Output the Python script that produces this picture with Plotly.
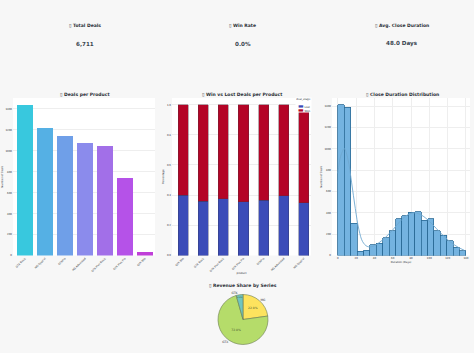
import plotly.graph_objects as go

W, H = 474, 353

products_count = ["GTX Basic", "MG Special", "GTXPro", "MG Advanced", "GTX Plus Basic", "GTX Plus Pro", "GTK 500"]
deals_count = [1435, 1218, 1142, 1079, 1047, 741, 30]
bar_colors = ["#38c8de", "#55b0e4", "#6f9fe8", "#8b8bec", "#a26fe8", "#b552e8", "#c03fd8"]

products_ratio = ["GTK 500", "GTX Basic", "GTX Plus Basic", "GTX Plus Pro", "GTXPro", "MG Advanced", "MG Special"]
lost_share = [0.40, 0.36, 0.375, 0.355, 0.365, 0.395, 0.35]
won_share = [0.60, 0.64, 0.625, 0.645, 0.635, 0.605, 0.65]

hist_centers = [3.5, 10.5, 17.5, 24.5, 31.5, 38.5, 45.5, 52.5, 59.5, 66.5, 73.5, 80.5, 87.5, 94.5, 101.5, 108.5, 115.5, 122.5, 129.5, 136.5]
hist_counts = [1410, 1390, 300, 40, 50, 100, 115, 165, 230, 345, 370, 405, 410, 330, 345, 230, 190, 140, 75, 45]
kde_x = [0, 3, 7, 11, 15, 19, 23, 27, 32, 38, 45, 52, 60, 68, 76, 84, 92, 100, 108, 116, 124, 132, 138]
kde_y = [770, 930, 1000, 900, 680, 440, 240, 130, 85, 85, 120, 170, 240, 320, 380, 400, 375, 320, 250, 180, 120, 75, 50]

series = ["MG", "GTX", "GTK"]
revenue_share = [22.8, 72.8, 4.4]
pie_colors = ["#fde35e", "#b5dc6a", "#6fc5c0"]

kpi_titles = ["▯ Total Deals", "▯ Win Rate", "▯ Avg. Close Duration"]
kpi_values = ["6,711", "0.0%", "48.0 Days"]
kpi_x = [85, 243, 402]

panel_titles = ["▯ Deals per Product", "▯ Win vs Lost Deals per Product", "▯ Close Duration Distribution"]
panel_title_x = [85, 243, 402]

legend_title = "deal_stage"
legend_names = ["Lost", "Won"]
legend_colors = ["#3b4cb8", "#b40426"]

FONT = "DejaVu Sans"
TXT = "#2b2f36"
GRID = "#eeeeee"


def px(x):
    return x / W


def py(y):
    return 1 - y / H


def note(x, y, text, size, color=TXT, xanchor="center", **kw):
    return dict(x=px(x), xanchor=xanchor, y=py(y), yanchor="middle", text=text, showarrow=False,
                xref="paper", yref="paper", font=dict(size=size, color=color, family=FONT), **kw)


fig = go.Figure()

fig.add_trace(go.Bar(x=products_count, y=deals_count, marker=dict(color=bar_colors, line=dict(width=0)),
                     width=0.77, xaxis="x", yaxis="y", showlegend=False))

fig.add_trace(go.Bar(x=products_ratio, y=lost_share, name="Lost", width=0.5, showlegend=False,
                     marker=dict(color="#3b4cb8", line=dict(color="#333a66", width=0.4)), xaxis="x2", yaxis="y2"))
fig.add_trace(go.Bar(x=products_ratio, y=won_share, name="Won", width=0.5, showlegend=False,
                     marker=dict(color="#b40426", line=dict(color="#5a2a3a", width=0.4)), xaxis="x2", yaxis="y2"))

fig.add_trace(go.Bar(x=hist_centers, y=hist_counts, width=7, showlegend=False,
                     marker=dict(color="#74b3e0", line=dict(color="#2b6a96", width=0.8)), xaxis="x3", yaxis="y3"))
fig.add_trace(go.Scatter(x=kde_x, y=kde_y, mode="lines", showlegend=False, line=dict(color="#6fa8d0", width=0.9, shape="spline"),
                         xaxis="x3", yaxis="y3"))

pie_domain = dict(x=[px(218), px(268)], y=[py(344.5), py(294.5)])
fig.add_trace(go.Pie(labels=series, values=revenue_share, sort=False, direction="clockwise", rotation=0,
                     domain=pie_domain, marker=dict(colors=pie_colors, line=dict(color="#6a7a50", width=0.6)),
                     textinfo="label", textposition="outside", automargin=False,
                     outsidetextfont=dict(size=3, color=TXT, family=FONT), showlegend=False))
fig.add_trace(go.Pie(labels=series, values=revenue_share, sort=False, direction="clockwise", rotation=0,
                     domain=pie_domain, marker=dict(colors=["rgba(0,0,0,0)"] * 3, line=dict(width=0)),
                     textinfo="percent", texttemplate="%{value:.1f}%", textposition="inside", insidetextorientation="horizontal",
                     insidetextfont=dict(size=3, color="#4a5a30", family=FONT), showlegend=False))

ann = []
for t, v, x in zip(kpi_titles, kpi_values, kpi_x):
    ann.append(note(x, 25.3, f"<b>{t}</b>", 4.5))
    ann.append(note(x, 43.7, f"<b>{v}</b>", 5.6, "#3a4650"))
for t, x in zip(panel_titles, panel_title_x):
    ann.append(note(x, 94.3, f"<b>{t}</b>", 4.5))
ann.append(note(243, 285.3, "<b>▯ Revenue Share by Series</b>", 4.5))
ann.append(note(303.5, 105, legend_title, 2.6, width=15, height=14, bgcolor="#ffffff", valign="top", align="center",
                borderpad=0))
for i, (n, c) in enumerate(zip(legend_names, legend_colors)):
    ann.append(note(296, 105 + 4.5 * i, f"<span style='color:{c};font-size:6px'>▬</span> {n}", 2.6, xanchor="left"))


def ax(dom, **kw):
    base = dict(domain=dom, tickfont=dict(size=2.6, color=TXT, family=FONT), showline=False, zeroline=False,
                ticks="", ticklen=1, automargin=False, gridcolor=GRID, gridwidth=0.5)
    base.update(kw)
    return base


def atitle(text, standoff=2):
    return dict(text=text, font=dict(size=2.6, color=TXT, family=FONT), standoff=standoff)


fig.update_layout(
    width=W, height=H, margin=dict(l=0, r=0, t=0, b=0), autosize=False,
    paper_bgcolor="#f7f7f7", plot_bgcolor="#ffffff", barmode="stack", bargap=0.2,
    font=dict(family=FONT),
    annotations=ann,
    xaxis=ax([px(13), px(155)], anchor="y", showgrid=False, tickangle=-45, range=[-0.6, 6.5]),
    yaxis=ax([py(255.5), py(98)], anchor="x", range=[0, 1504], tickvals=[0, 200, 400, 600, 800, 1000, 1200, 1400],
             title=atitle("Number of Deals")),
    xaxis2=ax([px(172), px(311)], anchor="y2", showgrid=False, tickangle=-45, range=[-0.56, 6.36],
              title=atitle("product", 0)),
    yaxis2=ax([py(255.5), py(98)], anchor="x2", range=[0, 1.044], tickvals=[0, 0.2, 0.4, 0.6, 0.8, 1.0],
              tickformat=".1f", title=atitle("Percentage")),
    xaxis3=ax([px(332), px(470)], anchor="y3", range=[-6.5, 144.5], tickvals=[0, 20, 40, 60, 80, 100, 120, 140],
              title=atitle("Duration (Days)")),
    yaxis3=ax([py(255.5), py(98)], anchor="x3", range=[0, 1475], tickvals=[0, 200, 400, 600, 800, 1000, 1200, 1400],
              title=atitle("Number of Deals")),
    showlegend=False,
)

fig.write_html("out.html", config=dict(displayModeBar=False), post_script="document.body.style.margin='0';")
